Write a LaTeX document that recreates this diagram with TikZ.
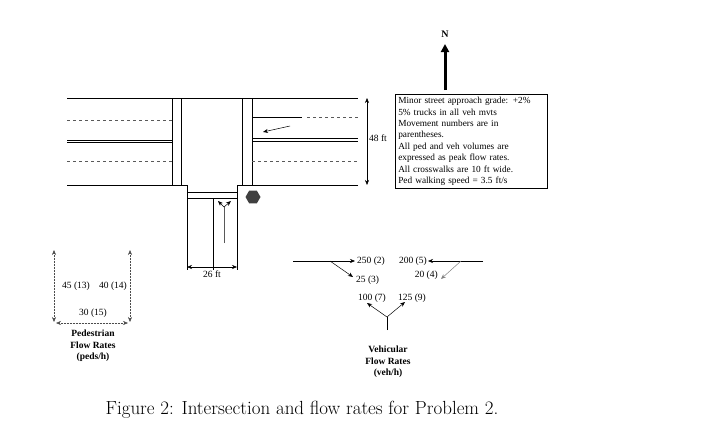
\documentclass[tikz,border=0pt]{standalone}
\usepackage{fontspec}
\newfontfamily\tnr{Liberation Serif}
\usetikzlibrary{arrows.meta,shapes.geometric}
\begin{document}
\begin{tikzpicture}[x=1pt,y=-1pt,
  road/.style={line width=1pt},
  thin/.style={line width=0.5pt},
  dashline/.style={dashed,line width=0.5pt,gray!70!black},
  lbl/.style={font=\tnr\fontsize{9.5}{10}\selectfont,inner sep=0pt},
  blbl/.style={font=\tnr\fontsize{9.5}{11.5}\selectfont\bfseries,align=center,inner sep=0pt},
  arr/.style={-{Stealth[length=5pt,width=4pt]},line width=0.5pt},
  darr/.style={{Stealth[length=5pt,width=4pt]}-{Stealth[length=5pt,width=4pt]},line width=0.5pt},
  dotarr/.style={darr,densely dotted,gray!60!black}]
\useasboundingbox (0,0) rectangle (713,447);
% main road
\draw[road] (67,98) -- (358,98);
\draw[road] (67,185) -- (187,185) -- (187,270);
\draw[road] (358,185) -- (237,185) -- (237,270);
% crosswalks
\draw[thin] (172,98) -- (172,185) (181,98) -- (181,185);
\draw[thin] (242,98) -- (242,185) (252,98) -- (252,185);
\draw[thin] (187,192) -- (237,192) (187,198) -- (237,198);
% left lanes
\draw[dashline] (67,120) -- (172,120);
\draw[thin] (67,140) -- (172,140) (67,142.5) -- (172,142.5);
\draw[dashline] (67,161) -- (172,161);
% right lanes
\draw[thin] (252,117) -- (302,117);
\draw[dashline] (307,117) -- (358,117);
\draw[thin] (252,138.5) -- (358,138.5) (252,141) -- (358,141);
\draw[dashline] (252,161) -- (358,161);
\coordinate (ra1) at (290,126); \coordinate (ra2) at (263,132);
\draw[arr] (ra1) -- (ra2);
% minor road centre and arrow
\draw[thin] (213,198) -- (213,270);
\coordinate (ma) at (224,243); \coordinate (mb) at (224,207);
\draw[thin,gray!70!black] (ma) -- (mb);
\coordinate (ml) at (218,201); \coordinate (mr) at (231,201);
\draw[arr] (mb) -- (ml); \draw[arr] (mb) -- (mr);
% hexagon
\node[regular polygon,regular polygon sides=6,fill=black!75,minimum size=15pt,inner sep=0pt] (stop) at (253,197) {};
% 48 ft
\coordinate (d1) at (367,98); \coordinate (d2) at (367,185);
\draw[darr] (d1) -- (d2);
\node[lbl] (w48) at (378,138) {48 ft};
% 26 ft
\coordinate (e1) at (187,267); \coordinate (e2) at (237,267);
\draw[darr] (e1) -- (e2);
\node[lbl] (w26) at (212,274) {26 ft};
% note box
\node[draw,thin,anchor=north west,lbl,inner sep=3pt,align=left,font=\tnr\fontsize{9.3}{11.4}\selectfont,text width=146pt] (note) at (395,94) {Minor street approach grade: +2\%\\5\% trucks in all veh mvts\\Movement numbers are in\\parentheses.\\All ped and veh volumes are\\expressed as peak flow rates.\\All crosswalks are 10 ft wide.\\Ped walking speed = 3.5 ft/s};
% north arrow
\node[font=\tnr\fontsize{10}{10}\selectfont\bfseries,inner sep=0pt] (N) at (445,34) {N};
\coordinate (n1) at (445,90); \coordinate (n2) at (445,44);
\draw[-{Triangle[length=8pt,width=8pt]},line width=3pt] (n1) -- (n2);
% pedestrian
\coordinate (p1) at (54,250); \coordinate (p2) at (54,322);
\coordinate (p3) at (130,250); \coordinate (p4) at (130,322);
\coordinate (p5) at (56,323); \coordinate (p6) at (128,323);
\draw[dotarr] (p1) -- (p2); \draw[dotarr] (p3) -- (p4); \draw[dotarr] (p5) -- (p6);
\node[lbl] (pa) at (76,286) {45 (13)};
\node[lbl] (pb) at (113,286) {40 (14)};
\node[lbl] (pc) at (93,313) {30 (15)};
\node[blbl] (pt) at (93,346) {Pedestrian\\Flow Rates\\(peds/h)};
% vehicular
\coordinate (v1) at (293,261); \coordinate (v2) at (355,261);
\draw[arr] (v1) -- (v2);
\node[lbl,anchor=west] (v250) at (357,261) {250 (2)};
\coordinate (v3) at (330,261); \coordinate (v4) at (353,277);
\draw[arr] (v3) -- (v4);
\node[lbl,anchor=west] (v25) at (356,280) {25 (3)};
\coordinate (w1) at (483,261); \coordinate (w2) at (428,261);
\draw[arr] (w1) -- (w2);
\node[lbl,anchor=east] (v200) at (427,261) {200 (5)};
\coordinate (w3) at (461,261); \coordinate (w4) at (441,279);
\draw[arr,gray] (w3) -- (w4);
\node[lbl,anchor=east] (v20) at (438,275) {20 (4)};
\coordinate (y0) at (387,330); \coordinate (y1) at (387,317);
\coordinate (y2) at (367,303); \coordinate (y3) at (405,302);
\draw[thin] (y0) -- (y1);
\draw[arr] (y1) -- (y2); \draw[arr] (y1) -- (y3);
\node[lbl] (v100) at (372,298) {100 (7)};
\node[lbl] (v125) at (412,298) {125 (9)};
\node[blbl] (vt) at (388,362) {Vehicular\\Flow Rates\\(veh/h)};
% caption
\node[font=\fontsize{19}{21}\selectfont,inner sep=0pt] (cap) at (302,410) {Figure 2: Intersection and flow rates for Problem 2.};
\end{tikzpicture}
\end{document}
